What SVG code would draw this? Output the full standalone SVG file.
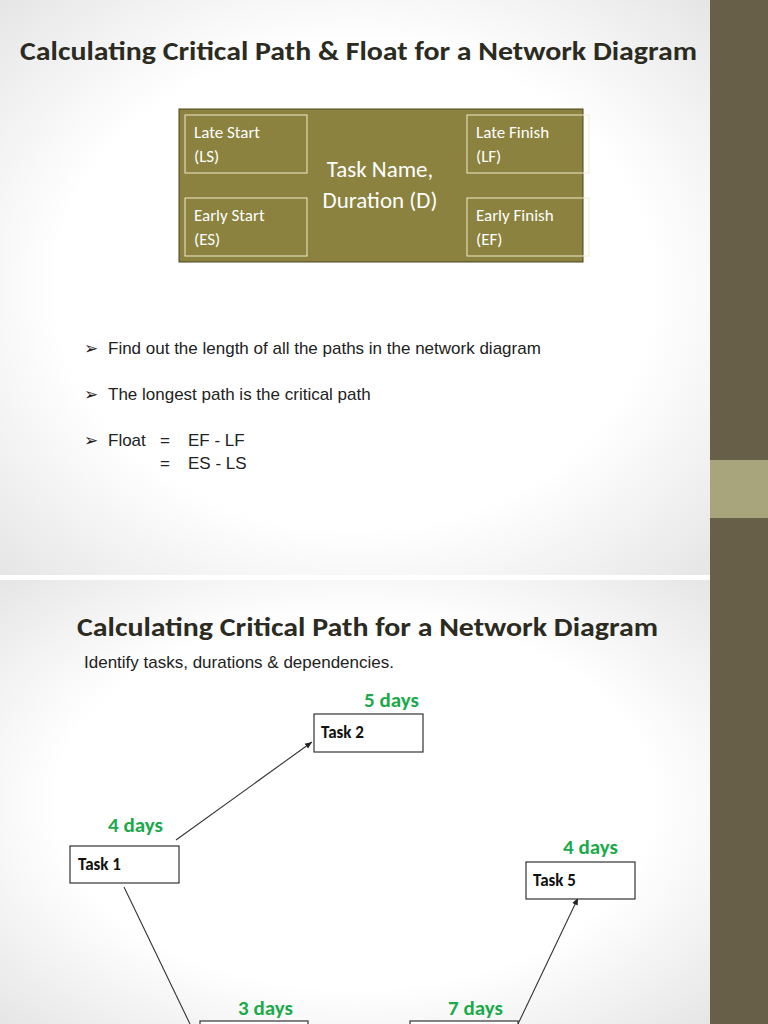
<svg xmlns="http://www.w3.org/2000/svg" width="768" height="1024" viewBox="0 0 768 1024">
<defs>
<radialGradient id="bg" cx="0.5" cy="0.5" r="0.7"><stop offset="0.6" stop-color="#ffffff"/><stop offset="1" stop-color="#e6e6e6"/></radialGradient>
<marker id="ah" markerWidth="8" markerHeight="8" refX="7" refY="4" orient="auto" markerUnits="userSpaceOnUse"><path d="M0,1 L7,4 L0,7 z" fill="#222"/></marker>
</defs>
<style>
.t{font-family:Carlito,Calibri,"Open Sans","Liberation Sans",sans-serif;}
.h{font-size:26px;fill:#2b2b22;font-weight:600}
.w{fill:#fff;font-size:17px}
.box{fill:none;stroke:#f0eccc;stroke-width:1}
.b{font-family:"Liberation Sans",Arial,sans-serif;font-size:17px;fill:#222}
.n{fill:#fff;stroke:#333;stroke-width:1.2}
.nl{font-size:17px;font-weight:bold;fill:#111}
.g{font-size:21px;font-weight:bold;fill:#1aaa4a}
.c{stroke:#333;stroke-width:1.1;fill:none}
</style>
<rect width="768" height="1024" fill="#fff"/>
<rect x="0" y="0" width="710" height="575" fill="url(#bg)"/>
<rect x="0" y="580" width="710" height="444" fill="url(#bg)"/>
<rect x="710" y="0" width="58" height="1024" fill="#675f48"/>
<rect x="710" y="460" width="58" height="58" fill="#a8a47c"/>
<text class="t h" x="20" y="60" textLength="677" lengthAdjust="spacingAndGlyphs">Calculating Critical Path &amp; Float for a Network Diagram</text>
<g id="legend">
<rect x="179" y="109" width="404" height="153" fill="#8a823e" stroke="#4a4520"/>
<rect class="box" x="185" y="115" width="122" height="58"/>
<rect class="box" x="185" y="198" width="122" height="58"/>
<rect class="box" x="467" y="115" width="122" height="58"/>
<rect class="box" x="467" y="198" width="122" height="58"/>
<text class="t w" x="194" y="138">Late Start</text><text class="t w" x="194" y="162">(LS)</text>
<text class="t w" x="194" y="221">Early Start</text><text class="t w" x="194" y="245">(ES)</text>
<text class="t w" x="476" y="138">Late Finish</text><text class="t w" x="476" y="162">(LF)</text>
<text class="t w" x="476" y="221">Early Finish</text><text class="t w" x="476" y="245">(EF)</text>
<text class="t w" x="380" y="177" text-anchor="middle" style="font-size:23px">Task Name,</text>
<text class="t w" x="380" y="208" text-anchor="middle" style="font-size:23px">Duration (D)</text>
</g>
<text class="b" x="84" y="354">➢</text><text class="b" x="108" y="354">Find out the length of all the paths in the network diagram</text>
<text class="b" x="84" y="400">➢</text><text class="b" x="108" y="400">The longest path is the critical path</text>
<text class="b" x="84" y="446">➢</text><text class="b" x="108" y="446">Float</text>
<text class="b" x="160" y="446">=</text><text class="b" x="188" y="446">EF - LF</text>
<text class="b" x="160" y="469">=</text><text class="b" x="188" y="469">ES - LS</text>
<text class="t h" x="77" y="636" textLength="581" lengthAdjust="spacingAndGlyphs">Calculating Critical Path for a Network Diagram</text>
<text class="b" x="84" y="668">Identify tasks, durations &amp; dependencies.</text>
<g id="connectors">
<line class="c" x1="176" y1="840" x2="312" y2="742" marker-end="url(#ah)"/>
<line class="c" x1="124" y1="887" x2="190" y2="1024"/>
<line class="c" x1="518" y1="1024" x2="578" y2="898" marker-end="url(#ah)"/>
</g>
<g id="task1"><rect class="n" x="70" y="846" width="109" height="37"/><text class="t nl" x="78" y="870">Task 1</text><text class="t g" x="108" y="832">4 days</text></g>
<g id="task2"><rect class="n" x="314" y="714" width="109" height="38"/><text class="t nl" x="321" y="738">Task 2</text><text class="t g" x="364" y="707">5 days</text></g>
<g id="task5"><rect class="n" x="526" y="862" width="109" height="37"/><text class="t nl" x="533" y="886">Task 5</text><text class="t g" x="563" y="854">4 days</text></g>
<g id="task3"><rect class="n" x="200" y="1021" width="108" height="10"/><text class="t g" x="238" y="1015">3 days</text></g>
<g id="task4"><rect class="n" x="410" y="1021" width="108" height="10"/><text class="t g" x="448" y="1015">7 days</text></g>
</svg>
